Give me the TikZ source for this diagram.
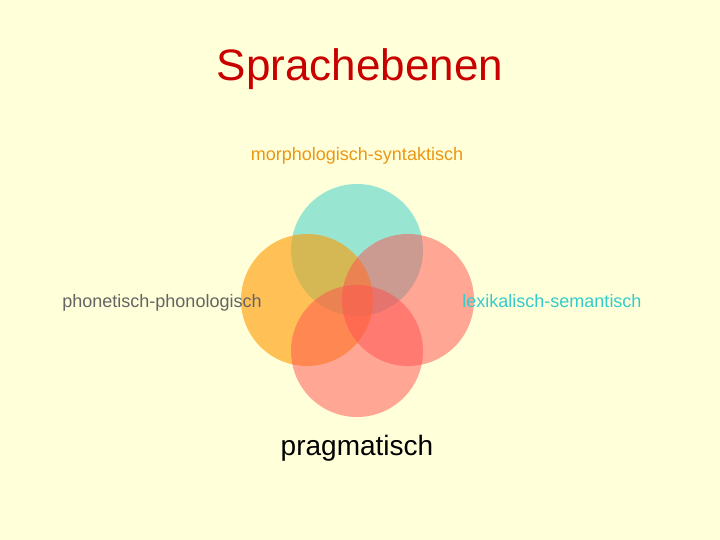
\documentclass[tikz,border=0pt]{standalone}
\usepackage{fontspec}
\setmainfont{Liberation Sans}
\definecolor{paper}{RGB}{255,255,217}
\definecolor{titlered}{RGB}{200,0,0}
\definecolor{tealc}{RGB}{51,204,204}
\definecolor{orangec}{RGB}{255,153,0}
\definecolor{salmonc}{RGB}{255,80,80}
\definecolor{morphtext}{RGB}{235,150,20}
\definecolor{phontext}{RGB}{100,100,100}
\tikzset{every node/.style={inner sep=0pt},
         ring/.style={circle,minimum size=132pt,draw=none},
         level/.style={font=\fontsize{18}{20}\selectfont,anchor=base}}
\begin{document}
\begin{tikzpicture}[x=1pt,y=-1pt]
\fill[paper] (0,0) rectangle (720,540);
\useasboundingbox (0,0) rectangle (720,540);
\node[anchor=base,text=titlered,font=\fontsize{44}{48}\selectfont] (title) at (360,81) {Sprachebenen};
% the four rings
\node[ring,fill=tealc,fill opacity=0.5] (morph) at (357,250) {};
\node[ring,fill=orangec,fill opacity=0.6] (phon) at (307,300) {};
\node[ring,fill=salmonc,fill opacity=0.5] (lex) at (408,300) {};
\node[ring,fill=salmonc,fill opacity=0.5] (prag) at (357,351) {};
% labels
\node[level,text=morphtext] (morphlabel) at (357,161) {morphologisch-syntaktisch};
\node[level,text=phontext] (phonlabel) at (162,307) {phonetisch-phonologisch};
\node[level,text=tealc] (lexlabel) at (552,307) {lexikalisch-semantisch};
\node[anchor=base,font=\fontsize{28}{30}\selectfont] (praglabel) at (357,455) {pragmatisch};
\end{tikzpicture}
\end{document}
